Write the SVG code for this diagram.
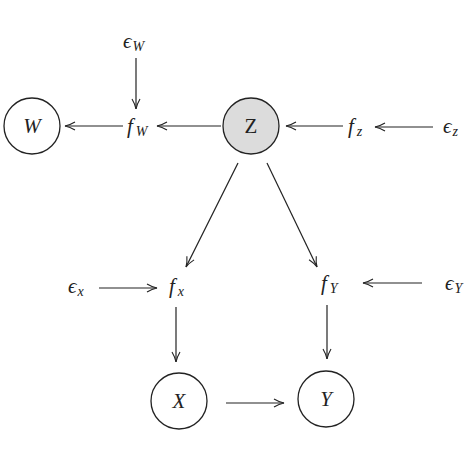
<svg xmlns="http://www.w3.org/2000/svg" width="474" height="474" viewBox="0 0 474 474">
<style>
.node{fill:#fff;stroke:#222;stroke-width:1.3}
.shaded{fill:#dcdcdc}
.lbl{font-family:"Liberation Serif","DejaVu Serif",serif;font-style:italic;font-size:21px;fill:#222}
.up{font-style:normal}
.sub{font-size:14px}
.edge{stroke:#222;stroke-width:1.2;fill:none;marker-end:url(#arr)}
</style>
<defs>
<marker id="arr" viewBox="0 0 12 10" refX="11" refY="5" markerWidth="12" markerHeight="10" markerUnits="userSpaceOnUse" orient="auto">
<path d="M1,1 Q6,4 11,5 Q6,6 1,9" fill="none" stroke="#222" stroke-width="1.1"/>
</marker>
</defs>
<rect width="474" height="474" fill="#fff"/>
<g id="connectors">
<line class="edge" x1="136" y1="58" x2="136" y2="109"/>
<line class="edge" x1="123" y1="126" x2="65" y2="126"/>
<line class="edge" x1="221" y1="126" x2="157" y2="126"/>
<line class="edge" x1="343" y1="126" x2="286" y2="126"/>
<line class="edge" x1="433" y1="127" x2="375" y2="127"/>
<line class="edge" x1="238" y1="163" x2="186" y2="267"/>
<line class="edge" x1="267" y1="163" x2="317" y2="267"/>
<line class="edge" x1="99" y1="288" x2="157" y2="288"/>
<line class="edge" x1="422" y1="283" x2="363" y2="283"/>
<line class="edge" x1="176" y1="307" x2="176" y2="362"/>
<line class="edge" x1="327" y1="305" x2="327" y2="359"/>
<line class="edge" x1="226" y1="403" x2="284" y2="403"/>
</g>
<g id="W"><circle class="node" cx="32" cy="126" r="28"/><text class="lbl" x="32" y="133" text-anchor="middle">W</text></g>
<g id="Z"><circle class="node shaded" cx="251" cy="126" r="28"/><text class="lbl up" x="251" y="133" text-anchor="middle">Z</text></g>
<g id="X"><circle class="node" cx="179" cy="401" r="28"/><text class="lbl" x="179" y="408" text-anchor="middle">X</text></g>
<g id="Y"><circle class="node" cx="326" cy="399" r="28"/><text class="lbl" x="326" y="406" text-anchor="middle">Y</text></g>
<g id="eW"><text class="lbl" x="123" y="48">ϵ<tspan class="sub" dx="1" dy="3">W</tspan></text></g>
<g id="fW"><text class="lbl" x="127" y="133">f<tspan class="sub" dx="3" dy="3">W</tspan></text></g>
<g id="fz"><text class="lbl" x="348" y="133">f<tspan class="sub" dx="3" dy="3">z</tspan></text></g>
<g id="ez"><text class="lbl" x="443" y="133">ϵ<tspan class="sub" dx="1" dy="3">z</tspan></text></g>
<g id="ex"><text class="lbl" x="68" y="293">ϵ<tspan class="sub" dx="1" dy="3">x</tspan></text></g>
<g id="fx"><text class="lbl" x="169" y="293">f<tspan class="sub" dx="3" dy="3">x</tspan></text></g>
<g id="fY"><text class="lbl" x="321" y="290">f<tspan class="sub" dx="3" dy="3">Y</tspan></text></g>
<g id="eY"><text class="lbl" x="445" y="290">ϵ<tspan class="sub" dx="1" dy="3">Y</tspan></text></g>
</svg>
